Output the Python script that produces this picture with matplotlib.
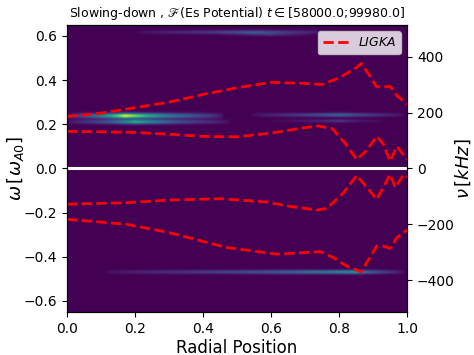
import numpy as np
import matplotlib
matplotlib.use('Agg')
import matplotlib.pyplot as plt

# ------------------------------------------------------------------
# LIGKA continuum branches (omega in units of omega_A0)
# ------------------------------------------------------------------
r_up = [0.0, 0.1, 0.2, 0.3, 0.4, 0.5, 0.6, 0.7, 0.75, 0.8, 0.85, 0.865,
        0.89, 0.91, 0.93, 0.95, 0.97, 1.0]
w_up = [0.235, 0.25, 0.275, 0.30, 0.335, 0.365, 0.39, 0.385, 0.38, 0.41,
        0.455, 0.475, 0.42, 0.37, 0.368, 0.372, 0.33, 0.29]

r_lo = [0.0, 0.1, 0.2, 0.3, 0.4, 0.5, 0.6, 0.7, 0.74, 0.78, 0.82, 0.852,
        0.88, 0.911, 0.93, 0.95, 0.97, 0.985, 1.0]
w_lo = [0.168, 0.166, 0.163, 0.155, 0.145, 0.143, 0.16, 0.185, 0.192, 0.18,
        0.11, 0.04, 0.08, 0.146, 0.11, 0.033, 0.10, 0.07, 0.04]

r_nup = [0.0, 0.176, 0.30, 0.45, 0.587, 0.66, 0.735, 0.764, 0.813, 0.852,
         0.911, 0.95, 0.965, 0.99, 1.0]
w_nup = [-0.162, -0.155, -0.143, -0.137, -0.152, -0.173, -0.188, -0.181,
         -0.11, -0.032, -0.14, -0.027, -0.086, -0.027, -0.04]

r_nlo = [0.0, 0.176, 0.30, 0.47, 0.617, 0.745, 0.783, 0.82, 0.865, 0.911,
         0.93, 0.95, 0.97, 1.0]
w_nlo = [-0.23, -0.253, -0.29, -0.358, -0.388, -0.377, -0.403, -0.44,
         -0.468, -0.35, -0.352, -0.362, -0.313, -0.278]

# ------------------------------------------------------------------
# Spectrogram ridges: frequency, radial extent, radius of peak,
# amplitude, plateau share and width in omega
# ------------------------------------------------------------------
ridge_w    = [0.236, 0.209, 0.240, 0.213, 0.614, 0.603, -0.470]
ridge_r0   = [0.00, 0.00, 0.54, 0.60, 0.20, 0.45, 0.11]
ridge_r1   = [0.46, 0.48, 0.99, 0.93, 0.80, 0.72, 0.99]
ridge_rpk  = [0.17, 0.20, 0.80, 0.80, 0.55, 0.60, 0.85]
ridge_amp  = [1.00, 0.65, 0.34, 0.16, 0.30, 0.12, 0.52]
ridge_base = [0.45, 0.40, 0.60, 0.50, 0.55, 0.50, 0.50]
ridge_sig  = [0.008, 0.007, 0.006, 0.005, 0.006, 0.005, 0.006]

w_to_khz = 792.0

# build the image
r_grid = np.linspace(0, 1, 500)
w_grid = np.linspace(-0.65, 0.65, 700)
R, W = np.meshgrid(r_grid, w_grid)
img = np.zeros_like(R)
for wc, r0, r1, rp, a, b, s in zip(ridge_w, ridge_r0, ridge_r1, ridge_rpk,
                                   ridge_amp, ridge_base, ridge_sig):
    inside = (R >= r0) & (R <= r1)
    # taper to zero at the ends, peak at rp
    left = np.clip((R - r0) / max(rp - r0, 1e-3), 0, 1)
    right = np.clip((r1 - R) / max(r1 - rp, 1e-3), 0, 1)
    env = np.minimum(left, right)
    env = b * np.sqrt(env) + (1 - b) * env ** 3
    img += inside * a * env * np.exp(-0.5 * ((W - wc) / s) ** 2)

fig = plt.figure(figsize=(4.74, 3.55), dpi=100)
ax = fig.add_axes([0.141, 0.121, 0.718, 0.809])
ax.imshow(img, extent=[0, 1, -0.65, 0.65], origin='lower', aspect='auto',
          cmap='viridis', vmin=0, vmax=1, interpolation='bilinear')

ax.axhline(0, color='white', linewidth=2.2)
ax.plot(r_up, w_up, '--', color='red', linewidth=2, label='$LIGKA$')
ax.plot(r_lo, w_lo, '--', color='red', linewidth=2)
ax.plot(r_nup, w_nup, '--', color='red', linewidth=2)
ax.plot(r_nlo, w_nlo, '--', color='red', linewidth=2)

ax.set_xlim(0, 1)
ax.set_ylim(-0.65, 0.65)
ax.set_yticks([-0.6, -0.4, -0.2, 0.0, 0.2, 0.4, 0.6])
ax.set_xlabel('Radial Position', fontsize=12, labelpad=2)
ax.set_ylabel(r'$\omega\,[\omega_{A0}]$', fontsize=13)
ax.yaxis.set_label_coords(-0.12, 0.5)
ax.set_title(r'Slowing-down , $\mathscr{F}$(Es Potential) $t\in$[58000.0;99980.0]',
             fontsize=9)
ax.legend(loc='upper right', fontsize=9)

ax2 = ax.twinx()
ax2.set_ylim(-0.65 * w_to_khz, 0.65 * w_to_khz)
ax2.set_yticks([-400, -200, 0, 200, 400])
ax2.set_ylabel(r'$\nu\,[kHz]$', fontsize=13)
ax2.yaxis.set_label_coords(1.135, 0.5)

plt.savefig('out.png', dpi=100)
